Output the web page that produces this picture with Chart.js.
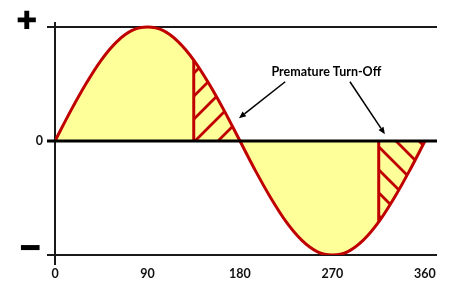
<!DOCTYPE html>
<html>
<head>
<meta charset="utf-8">
<script src="https://cdn.jsdelivr.net/npm/chart.js@4.4.1/dist/chart.umd.min.js"></script>
<style>
  html, body { margin: 0; padding: 0; background: #fff; }
</style>
</head>
<body>
<canvas id="chartSine" width="467" height="285"></canvas>
<script>
// angles in degrees, curve (1 = top line, -1 = bottom line)
const angles = [0, 15, 30, 45, 60, 75, 90, 105, 120, 135, 150, 165, 180,
                195, 210, 225, 240, 255, 270, 285, 300, 315, 330, 345, 360];
const curveValues = [0, 0.26, 0.5, 0.71, 0.87, 0.97, 1, 0.97, 0.87, 0.71, 0.5, 0.26, 0,
                     -0.26, -0.5, -0.71, -0.87, -0.97, -1, -0.97, -0.87, -0.71, -0.5, -0.26, 0];
const xTickValues = [0, 90, 180, 270, 360];
const yTickValues = [-1, 0, 1];
// hatched parts (premature turn-off), start and end angle
const cutStart = [135, 315];
const cutEnd = [180, 360];
const noteText = 'Premature Turn-Off';

// where the note and its arrows sit, in data units
const notePos = { x: 264, y: 0.61 };
const arrows = [
  { from: [224, 0.52], to: [179, 0.2] },
  { from: [287, 0.52], to: [321, 0.06] }
];

const red = '#C00000';
const yellow = '#FFFF99';
const fontFam = 'Lato, "Open Sans", sans-serif';

const canvas = document.getElementById('chartSine');
const ctx = canvas.getContext('2d');

// diagonal hatch, '/' or '\'
function makeHatch(dir) {
  const size = 23;
  const tile = document.createElement('canvas');
  tile.width = size; tile.height = size;
  const g = tile.getContext('2d');
  g.fillStyle = yellow;
  g.fillRect(0, 0, size, size);
  g.strokeStyle = red;
  g.lineWidth = 2.8;
  g.beginPath();
  for (let k = -2; k <= 2; k++) {
    if (dir === '/') {
      const c = 14 + size * k;
      g.moveTo(c + 6, -6);
      g.lineTo(c - size - 6, size + 6);
    } else {
      const d = 21 + size * k;
      g.moveTo(-6, d - 6);
      g.lineTo(size + 6, d + size + 6);
    }
  }
  g.stroke();
  return ctx.createPattern(tile, 'repeat');
}

const curvePoints = angles.map((a, i) => ({ x: a, y: curveValues[i] }));

function cutPoints(i) {
  return curvePoints.filter(p => p.x >= cutStart[i] && p.x <= cutEnd[i]);
}
function cutEdge(i) {
  const top = curvePoints.find(p => p.x === cutStart[i]);
  return [{ x: cutStart[i], y: 0 }, { x: cutStart[i], y: top.y }];
}

const extrasPlugin = {
  id: 'extras',
  afterDatasetsDraw(chart) {
    const c = chart.ctx;
    const { chartArea, scales: { x, y } } = chart;
    c.save();

    // thick zero line
    const y0 = y.getPixelForValue(0);
    c.strokeStyle = '#000';
    c.lineWidth = 3;
    c.beginPath();
    c.moveTo(chartArea.left - 8, y0);
    c.lineTo(chartArea.right, y0);
    c.stroke();

    // arrows
    c.lineWidth = 1.5;
    c.fillStyle = '#000';
    arrows.forEach(a => {
      const x1 = x.getPixelForValue(a.from[0]), y1 = y.getPixelForValue(a.from[1]);
      const x2 = x.getPixelForValue(a.to[0]), y2 = y.getPixelForValue(a.to[1]);
      const ang = Math.atan2(y2 - y1, x2 - x1);
      const len = 7, half = 3;
      const bx = x2 - len * Math.cos(ang), by = y2 - len * Math.sin(ang);
      c.beginPath();
      c.moveTo(x1, y1);
      c.lineTo(bx, by);
      c.stroke();
      c.beginPath();
      c.moveTo(x2, y2);
      c.lineTo(bx + half * Math.sin(ang), by - half * Math.cos(ang));
      c.lineTo(bx - half * Math.sin(ang), by + half * Math.cos(ang));
      c.closePath();
      c.fill();
    });

    // note
    c.font = 'bold 12.5px ' + fontFam;
    c.textAlign = 'center';
    c.textBaseline = 'middle';
    c.fillText(noteText, x.getPixelForValue(notePos.x), y.getPixelForValue(notePos.y));

    // plus / minus marks
    c.font = '25px "DejaVu Sans"';
    c.fillText('\u271A', chartArea.left - 28, y.getPixelForValue(1) - 5);
    c.font = 'bold 30px "DejaVu Sans"';
    c.fillText('\u2501', chartArea.left - 25, y.getPixelForValue(-1) - 4.5);
    c.restore();
  }
};

new Chart(ctx, {
  type: 'line',
  data: {
    datasets: [
      {
        // yellow area
        data: curvePoints,
        borderWidth: 0,
        backgroundColor: yellow,
        fill: 'origin',
        cubicInterpolationMode: 'monotone',
        pointRadius: 0,
        order: 4
      },
      {
        data: cutPoints(0),
        borderWidth: 0,
        backgroundColor: makeHatch('/'),
        fill: 'origin',
        cubicInterpolationMode: 'monotone',
        pointRadius: 0,
        order: 3
      },
      {
        data: cutPoints(1),
        borderWidth: 0,
        backgroundColor: makeHatch('\\'),
        fill: 'origin',
        cubicInterpolationMode: 'monotone',
        pointRadius: 0,
        order: 3
      },
      {
        data: cutEdge(0),
        borderColor: red,
        borderWidth: 3,
        fill: false,
        pointRadius: 0,
        order: 2
      },
      {
        data: cutEdge(1),
        borderColor: red,
        borderWidth: 3,
        fill: false,
        pointRadius: 0,
        order: 2
      },
      {
        // the red curve itself
        data: curvePoints,
        borderColor: red,
        borderWidth: 3,
        fill: false,
        cubicInterpolationMode: 'monotone',
        pointRadius: 0,
        order: 1
      }
    ]
  },
  options: {
    responsive: false,
    animation: false,
    layout: { padding: { top: 22, right: 30, bottom: 0, left: 0 } },
    plugins: {
      legend: { display: false },
      tooltip: { enabled: false }
    },
    scales: {
      x: {
        type: 'linear',
        min: 0,
        max: 371.7,
        afterBuildTicks: scale => { scale.ticks = xTickValues.map(v => ({ value: v })); },
        afterFit: scale => { scale.height = 30; },
        border: { display: false },
        grid: {
          color: c => (c.tick && c.tick.value === 0 ? '#1a1a1a' : 'transparent'),
          lineWidth: 2,
          tickLength: 10
        },
        ticks: {
          color: '#111',
          padding: 1,
          maxRotation: 0,
          font: { family: fontFam, size: 12.5, weight: 'bold' }
        }
      },
      y: {
        min: -1,
        max: 1.044,
        afterBuildTicks: scale => { scale.ticks = yTickValues.map(v => ({ value: v })); },
        afterFit: scale => { scale.width = 55; },
        border: { display: false },
        grid: {
          color: c => (c.tick && c.tick.value !== 0 ? '#1a1a1a' : 'transparent'),
          lineWidth: 2,
          tickLength: 8
        },
        ticks: {
          color: '#111',
          padding: 4,
          callback: v => (v === 0 ? '0' : ''),
          font: { family: fontFam, size: 12.5, weight: 'bold' }
        }
      }
    }
  },
  plugins: [extrasPlugin]
});
</script>
</body>
</html>
